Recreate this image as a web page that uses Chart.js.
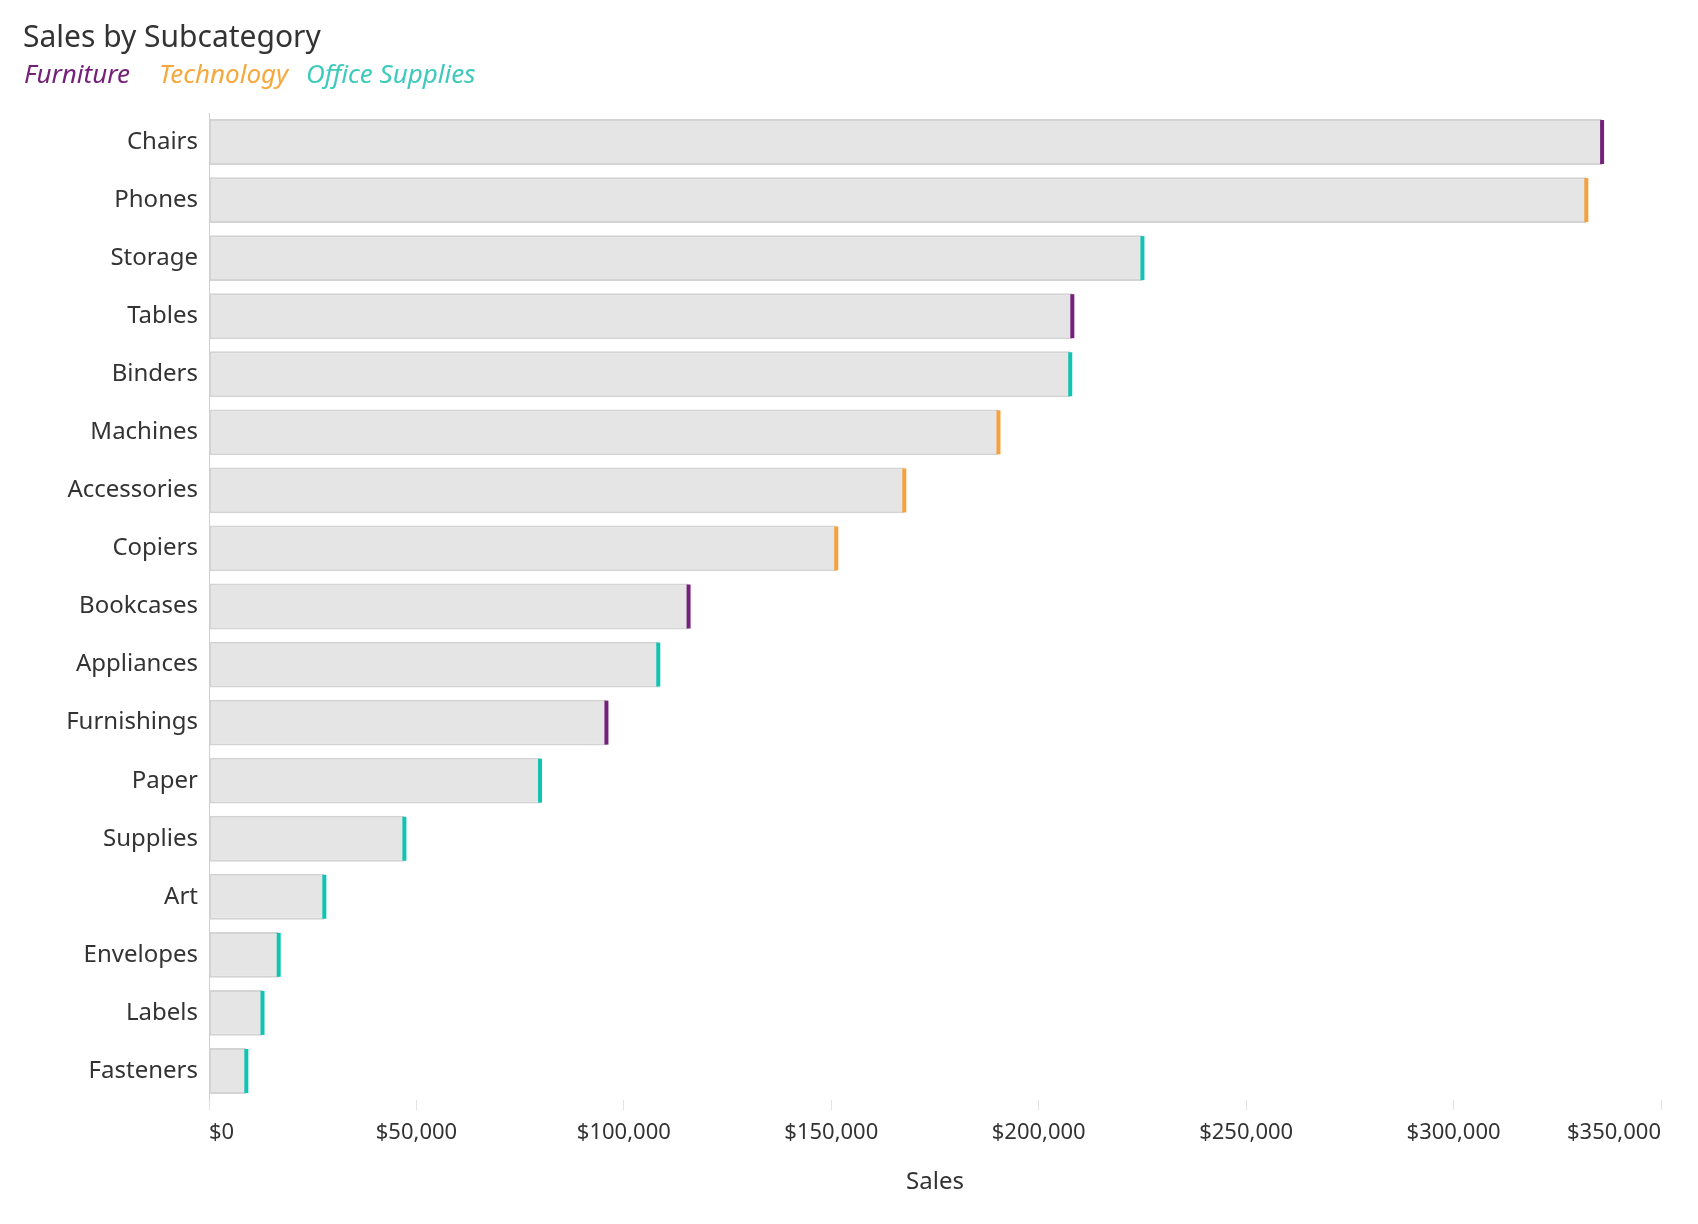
<!DOCTYPE html>
<html>
<head>
<meta charset="utf-8">
<script src="https://cdn.jsdelivr.net/npm/chart.js@4.4.1/dist/chart.umd.min.js"></script>
<style>
  html, body { margin: 0; padding: 0; background: #fff; }
  body { width: 1698px; height: 1224px; position: relative; overflow: hidden; font-family: 'Noto Sans', sans-serif; }
  #title { position: absolute; left: 23px; top: 16px; font-size: 30px; line-height: 40px; color: #333; }
  .legend { position: absolute; top: 56px; font-size: 26px; line-height: 34px; font-style: italic; }
  #wrap { position: absolute; left: 0; top: 0; width: 1698px; height: 1224px; }
</style>
</head>
<body>
<div id="wrap"><canvas id="chart" width="1698" height="1224"></canvas></div>
<div id="title">Sales by Subcategory</div>
<div id="legend"></div>
<script>
// data
const subcategories = ['Chairs', 'Phones', 'Storage', 'Tables', 'Binders', 'Machines', 'Accessories',
  'Copiers', 'Bookcases', 'Appliances', 'Furnishings', 'Paper', 'Supplies', 'Art', 'Envelopes',
  'Labels', 'Fasteners']
const sales = [335800, 332000, 225000, 208100, 207600, 190300, 167600, 151200, 115600, 108300,
  95800, 79800, 47100, 27800, 16800, 12900, 9000]
const categoryOf = ['Furniture', 'Technology', 'Office Supplies', 'Furniture', 'Office Supplies',
  'Technology', 'Technology', 'Technology', 'Furniture', 'Office Supplies', 'Furniture',
  'Office Supplies', 'Office Supplies', 'Office Supplies', 'Office Supplies', 'Office Supplies',
  'Office Supplies']
const categories = ['Furniture', 'Technology', 'Office Supplies']
const categoryColors = ['#75207a', '#f7a13d', '#10c4b3']
const legendColors = ['#75207a', '#f7a83d', '#3dcabd']
const xTicks = [0, 50000, 100000, 150000, 200000, 250000, 300000, 350000]

// legend as coloured italic text
const legendLeft = [24, 159, 306]
const legend = document.getElementById('legend')
categories.forEach((name, i) => {
  const span = document.createElement('div')
  span.className = 'legend'
  span.textContent = name
  span.style.left = legendLeft[i] + 'px'
  span.style.color = legendColors[i]
  legend.appendChild(span)
})

const markColors = categoryOf.map((c) => categoryColors[categories.indexOf(c)])

Chart.defaults.font.family = "'Noto Sans', sans-serif"

const ctx = document.getElementById('chart').getContext('2d')
const chart = new Chart(ctx, {
  type: 'bar',
  data: {
    labels: subcategories,
    datasets: [
      {
        type: 'line',
        data: sales,
        showLine: false,
        pointStyle: 'line',
        rotation: 90,
        pointRadius: 22,
        pointHoverRadius: 22,
        pointBorderWidth: 4,
        pointHoverBorderWidth: 4,
        pointBorderColor: markColors,
        pointBackgroundColor: markColors,
        order: 1,
      },
      {
        type: 'bar',
        data: sales,
        backgroundColor: '#e5e5e5',
        borderColor: '#d3d3d3',
        borderWidth: 2,
        borderSkipped: false,
        barPercentage: 0.79,
        categoryPercentage: 1,
        order: 2,
      },
    ],
  },
  options: {
    indexAxis: 'y',
    responsive: false,
    animation: false,
    events: [],
    layout: { padding: { top: 113, right: 37, left: 0, bottom: 0 } },
    plugins: {
      legend: { display: false },
      tooltip: { enabled: false },
    },
    scales: {
      x: {
        min: 0,
        max: 350000,
        afterBuildTicks: (scale) => {
          scale.ticks = xTicks.map((v) => ({ value: v }))
        },
        ticks: {
          align: 'inner',
          color: '#333',
          font: { size: 22 },
          padding: 10,
          maxRotation: 0,
          callback: (v) => '$' + v.toLocaleString('en-US'),
        },
        grid: { drawOnChartArea: false, drawTicks: true, tickLength: 10, color: '#e3e3e3' },
        border: { display: false },
        title: {
          display: true,
          text: 'Sales',
          color: '#333',
          font: { size: 24 },
          padding: { top: 0, bottom: 27 },
        },
        afterFit: (scale) => { scale.height = 124 },
      },
      y: {
        ticks: { color: '#333', font: { size: 24 }, padding: 3 },
        grid: { display: false },
        border: { display: true, color: '#cfcfcf', dash: [4, 3], width: 1 },
        afterFit: (scale) => { scale.width = 209 },
      },
    },
  },
})
</script>
</body>
</html>
